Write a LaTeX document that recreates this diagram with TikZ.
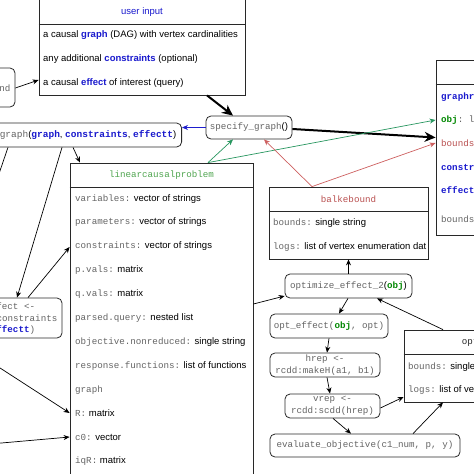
\documentclass[tikz,border=0pt]{standalone}
\usepackage{fontspec}
\setmainfont{Liberation Sans}
\setmonofont{Liberation Mono}
\usetikzlibrary{arrows.meta,calc}
\definecolor{blueT}{RGB}{25,25,205}
\definecolor{greenH}{RGB}{80,165,80}
\definecolor{greenO}{RGB}{0,135,0}
\definecolor{redT}{RGB}{185,80,80}
\definecolor{monog}{RGB}{100,100,100}
\definecolor{greenL}{RGB}{40,150,95}
\definecolor{redL}{RGB}{205,95,95}
\definecolor{blueL}{RGB}{30,30,205}
\definecolor{linec}{RGB}{40,40,40}
\newcommand\mtxt[1]{{\ttfamily\fontsize{9.2}{11}\selectfont\color{monog}#1}}
\newcommand\bkw[1]{{\bfseries\color{blueT}#1}}
\newcommand\mbkw[1]{{\ttfamily\bfseries\fontsize{9.2}{11}\selectfont\color{blueT}#1}}
\newcommand\mgkw[1]{{\ttfamily\bfseries\fontsize{9.2}{11}\selectfont\color{greenO}#1}}
\newcommand\gbkw[1]{{\ttfamily\bfseries\fontsize{9.5}{11}\selectfont\color{blueT}#1}}
\tikzset{
  every node/.style={font=\fontsize{9.5}{11.5}\selectfont},
  cbox/.style={draw=linec, line width=0.8pt, rectangle, inner sep=0pt},
  rbox/.style={draw=linec, line width=0.8pt, rounded corners=5pt, inner sep=0pt, fill=white},
  rowtxt/.style={anchor=west, inner sep=0pt},
  mtext/.style={inner sep=0pt, font=\ttfamily\fontsize{9.2}{11}\selectfont, text=monog},
  arr/.style={-{Stealth[length=6pt,width=5pt]}, line width=0.7pt, draw=black},
  thickarr/.style={-{Stealth[length=11pt,width=10pt]}, line width=2pt, draw=black},
  garr/.style={-{Stealth[length=6pt,width=5pt]}, line width=0.7pt, draw=greenL},
  rarr/.style={-{Stealth[length=6pt,width=5pt]}, line width=0.7pt, draw=redL},
  barr/.style={-{Stealth[length=6pt,width=5pt]}, line width=0.7pt, draw=blueL},
}
\begin{document}
\begin{tikzpicture}[x=1pt,y=-1pt]
\useasboundingbox (0,0) rectangle (474,474);
\clip (0,0) rectangle (474,474);

% ---------- class boxes ----------
\node[cbox, minimum width=206pt, minimum height=96pt] (ui) at (142,47) {};
\draw[draw=linec, line width=0.8pt] (ui.west |- 0,24) -- (ui.east |- 0,24);
\node[inner sep=0pt, text=blueT] (uih) at (142,12.5) {user input};
\node[rowtxt] (ui1) at (43,35.5) {a causal \bkw{graph} (DAG) with vertex cardinalities};
\node[rowtxt] (ui2) at (43,59.5) {any additional \bkw{constraints} (optional)};
\node[rowtxt] (ui3) at (43,83) {a causal \bkw{effect} of interest (query)};

\node[cbox, minimum width=183pt, minimum height=327pt] (lcp) at (161.5,326.5) {};
\draw[draw=linec, line width=0.8pt] (lcp.west |- 0,187) -- (lcp.east |- 0,187);
\node[mtext, text=greenH] (lcph) at (161.5,175) {linearcausalproblem};
\node[rowtxt] (l1) at (75,199) {\mtxt{variables:} vector of strings};
\node[rowtxt] (l2) at (75,222.5) {\mtxt{parameters:} vector of strings};
\node[rowtxt] (l3) at (75,246.5) {\mtxt{constraints:} vector of strings};
\node[rowtxt] (l4) at (75,270) {\mtxt{p.vals:} matrix};
\node[rowtxt] (l5) at (75,294) {\mtxt{q.vals:} matrix};
\node[rowtxt] (l6) at (75,318) {\mtxt{parsed.query:} nested list};
\node[rowtxt] (l7) at (75,342) {\mtxt{objective.nonreduced:} single string};
\node[rowtxt] (l8) at (75,366) {\mtxt{response.functions:} list of functions};
\node[rowtxt] (l9) at (75,390) {\mtxt{graph}};
\node[rowtxt] (l10) at (75,413) {\mtxt{R:} matrix};
\node[rowtxt] (l11) at (75,437) {\mtxt{c0:} vector};
\node[rowtxt] (l12) at (75,461) {\mtxt{iqR:} matrix};

\node[cbox, minimum width=164pt, minimum height=175pt] (gr) at (518,147.5) {};
\draw[draw=linec, line width=0.8pt] (gr.west |- 0,84) -- (gr.east |- 0,84);
\node[rowtxt] (g1) at (441,97) {\mbkw{graphres}};
\node[rowtxt] (g2) at (441,120) {\mgkw{obj}\mtxt{: linearcausalproblem}};
\node[rowtxt] (g3) at (441,144) {{\ttfamily\fontsize{9.2}{11}\selectfont\color{redT}bounds.obj}};
\node[rowtxt] (g4) at (441,167) {\mbkw{constraints}};
\node[rowtxt] (g5) at (441,190) {\mbkw{effect}};
\node[rowtxt] (g6) at (441,219) {\mtxt{boundsFunction}};

\node[cbox, minimum width=159pt, minimum height=72pt] (bb) at (348.5,223) {};
\draw[draw=linec, line width=0.8pt] (bb.west |- 0,211) -- (bb.east |- 0,211);
\node[mtext, text=redT] (bbh) at (348.5,199) {balkebound};
\node[rowtxt] (b1) at (273,223) {\mtxt{bounds:} single string};
\node[rowtxt] (b2) at (273,247) {\mtxt{logs:} list of vertex enumeration dat};

\node[cbox, minimum width=160pt, minimum height=72pt] (optb) at (484,366) {};
\draw[draw=linec, line width=0.8pt] (optb.west |- 0,354) -- (optb.east |- 0,354);
\node[mtext, text=linec] (optbh) at (484,342) {optbound};
\node[rowtxt] (o1) at (408,367) {\mtxt{bounds:} single string};
\node[rowtxt] (o2) at (408,390) {\mtxt{logs:} list of vertex enumeration dat};

% ---------- rounded function nodes ----------
\node[rbox, minimum width=55pt, minimum height=39pt] (nd) at (-12.5,87.5) {};
\node[mtext, anchor=east] (ndt) at (10.5,88) {nd};

\node[rbox, anchor=east, minimum width=250pt, minimum height=24pt] (graph) at (182,135) {};
\node[inner sep=0pt, anchor=east] (grapht) at (176.5,135)
  {{\ttfamily\fontsize{9.5}{11}\selectfont\color{monog}graph}(\gbkw{graph}, \gbkw{constraints}, \gbkw{effectt})};

\node[rbox, minimum width=122pt, minimum height=40pt] (ect) at (1,318) {};
\node[mtext, anchor=west] (ect1) at (-14.8,306.5) {effect <-};
\node[mtext, anchor=west] (ect2) at (-3.6,318.5) {constraints};
\node[mtext, anchor=west] (ect3) at (-14.8,330.5) {(\textbf{\color{blueT}effectt})};

\node[rbox, minimum width=86pt, minimum height=23pt] (spec) at (249,127.5)
  {\mtxt{specify\_graph}()};
\node[rbox, minimum width=127pt, minimum height=24pt] (opt2) at (348.5,286)
  {\mtxt{optimize\_effect\_2}(\mgkw{obj})};
\node[rbox, minimum width=118pt, minimum height=24pt] (opteff) at (329,326)
  {\mtxt{opt\_effect(}\mgkw{obj}\mtxt{, opt)}};
\node[rbox, minimum width=110pt, minimum height=24pt, align=center, font=\ttfamily\fontsize{9.2}{11.5}\selectfont, text=monog] (hrep) at (325,365)
  {hrep <-\\rcdd:makeH(a1, b1)};
\node[rbox, minimum width=95pt, minimum height=24pt, align=center, font=\ttfamily\fontsize{9.2}{11.5}\selectfont, text=monog] (vrep) at (332.5,406)
  {vrep <-\\rcdd:scdd(hrep)};
\node[rbox, minimum width=190pt, minimum height=23pt] (evalo) at (365,445.5)
  {\mtxt{evaluate\_objective(c1\_num, p, y)}};

% ---------- free ends ----------
\coordinate (offA) at (-10,200);
\coordinate (offB) at (-10,361.5);
\coordinate (offC) at (-10,444);

% ---------- connectors ----------
\draw[arr] (nd.east |- 0,88) -- (ui.west |- 0,80);
\draw[thickarr] (ui.south -| 207,0) -- (spec.north -| 233,0);
\draw[thickarr] (spec.east |- 0,129) -- (gr.west |- 0,137.5);
\draw[barr] (spec.west) -- (graph.east |- spec.west);
\draw[draw=black, line width=0.7pt] (graph.south -| 8,0) -- (offA);
\draw[arr] (graph.south -| 62,0) -- (ect.north -| 17,0);
\draw[arr] (graph.south -| 73,0) -- (lcp.north -| 80,0);
\draw[arr] (ect.north -| 28,0) -- (lcp.west |- 0,247);
\draw[arr] (offB) -- (lcp.west |- 0,413);
\draw[arr] (offC) -- (lcp.west |- 0,437);
\draw[garr] (lcp.north -| 208,0) -- (spec.south -| 233,0);
\draw[garr] (lcp.north -| 208,0) -- (gr.west |- 0,120);
\draw[rarr] (bb.north -| 312,0) -- (spec.south -| 264,0);
\draw[rarr] (bb.north -| 312,0) -- (gr.west |- 0,143);
\draw[arr] (opt2.north) -- (bb.south -| opt2.north);
\draw[arr] (lcp.east |- 0,304) -- (opt2.west |- 0,296);
\draw[arr] (opt2.south -| 348,0) -- (opteff.north -| 339,0);
\draw[arr] (optb.north -| 443,0) -- (opt2.south -| 377,0);
\draw[arr] (opteff.south -| 329,0) -- (hrep.north -| 327,0);
\draw[arr] (hrep.south -| 327,0) -- (vrep.north -| 330,0);
\draw[arr] (vrep.east |- 0,408) -- (optb.west |- 0,397);
\draw[arr] (vrep.south -| 333,0) -- (evalo.north -| 351,0);
\draw[arr] (evalo.north -| 413,0) -- (optb.south -| 443,0);
\end{tikzpicture}
\end{document}
